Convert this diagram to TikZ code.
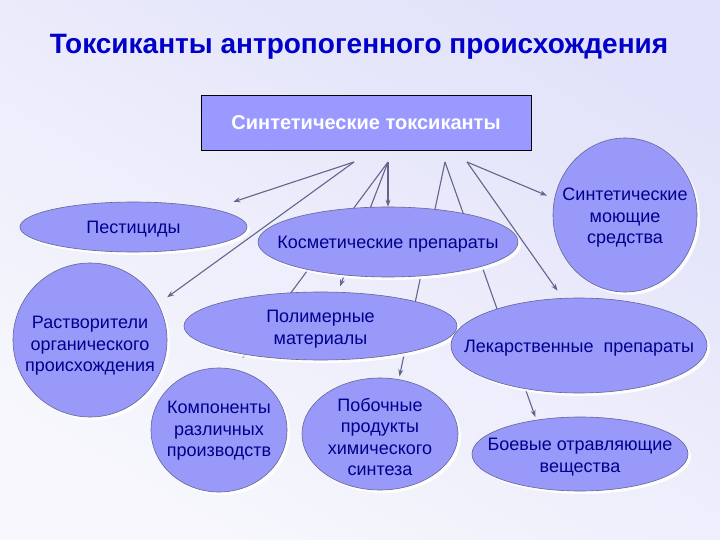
\documentclass[tikz,border=0pt]{standalone}
\usepackage{fontspec}
\setmainfont{Liberation Sans}
\usetikzlibrary{arrows.meta,shapes.geometric,shadows,positioning}

\definecolor{slidebg}{RGB}{226,226,250}
\definecolor{slidelow}{RGB}{247,247,253}
\definecolor{blobfill}{RGB}{153,153,250}
\definecolor{boxfill}{RGB}{153,153,255}
\definecolor{blobline}{RGB}{100,100,150}
\definecolor{blobtext}{RGB}{0,0,140}
\definecolor{titleblue}{RGB}{0,0,200}
\definecolor{arrowgray}{RGB}{100,100,140}

\pgfdeclarelayer{back}
\pgfdeclarelayer{wires}
\pgfsetlayers{back,wires,main}

\begin{document}
\begin{tikzpicture}[x=1pt, y=-1pt]
    \tikzset{blob/.style 2 args={ellipse, draw=blobline, line width=0.6pt, fill=blobfill, inner sep=0pt, minimum width=#1, minimum height=#2, drop shadow={shadow xshift=3pt, shadow yshift=-3pt, fill=white, opacity=0.9}}}
    \tikzset{blobtxt/.style={text=blobtext, align=center, inner sep=0pt, yshift=-3pt, font=\fontsize{18}{21.5}\selectfont}}
    \tikzset{arr/.style={draw=arrowgray, line width=1.1pt, -{Stealth[length=7pt, width=5pt]}}}

    % SLIDE BACKGROUND
    \begin{pgfonlayer}{back}
        \shade[top color=slidebg, bottom color=slidelow, shading angle=-30] (0,0) rectangle (720,540);
    \end{pgfonlayer}
    \useasboundingbox (0,0) rectangle (720,540);

    % TITLE AND TOP BOX
    \node[font=\fontsize{28}{33}\selectfont\bfseries, text=titleblue] (title) at (359,47) {Токсиканты антропогенного происхождения};
    \node[draw=black, line width=0.8pt, fill=boxfill, minimum width=330, minimum height=55, inner sep=0pt, text=white, font=\fontsize{20}{24}\selectfont\bfseries] (synth) at (366,122.5) {Синтетические токсиканты};

    % ELLIPSES
    \node[blob={227}{50}, label={[blobtxt, yshift=1pt]center:Пестициды}] (pest) at (133.5,227) {};
    \node[blob={260}{70}, label={[blobtxt, yshift=1pt]center:Косметические препараты}] (kos) at (388,242) {};
    \node[blob={144}{154}, label={[blobtxt]center:{Синтетические\\моющие\\средства}}] (sin) at (625,215) {};
    \node[blob={154}{154}, label={[blobtxt, yshift=-3pt]center:{Растворители\\органического\\происхождения}}] (rast) at (90,340) {};
    \node[blob={273}{68}, label={[blobtxt]center:{Полимерные\\материалы}}] (pol) at (320.5,326) {};
    \node[blob={256}{95}, label={[blobtxt]center:{Лекарственные~ препараты}}] (lek) at (579,345.5) {};
    \node[blob={136}{124}, label={[blobtxt, yshift=2pt]center:{Компоненты\\различных\\производств}}] (komp) at (219,430) {};
    \node[blob={156}{112}, label={[blobtxt]center:{Побочные\\продукты\\химического\\синтеза}}] (pob) at (380,434) {};
    \node[blob={216}{74}, label={[blobtxt]center:{Боевые отравляющие\\вещества}}] (boe) at (580,454) {};

    % ARROWS FROM THE BOX
    \coordinate (o1) at (354,162);
    \coordinate (o2) at (388,162);
    \coordinate (o3) at (445,162);
    \coordinate (o4) at (467,162);
    \begin{pgfonlayer}{wires}
        \foreach \from/\to/\gap in {o1/pest.13/22, o1/rast.28/11, o2/kos.north/0, o2/pol.63/6, o2/komp.76/14, o3/pob.71/3, o3/boe.142/3, o4/sin.167/8, o4/lek.109/9}
            \draw[arr, shorten >=\gap pt] (\from) -- (\to);
    \end{pgfonlayer}
\end{tikzpicture}
\end{document}
